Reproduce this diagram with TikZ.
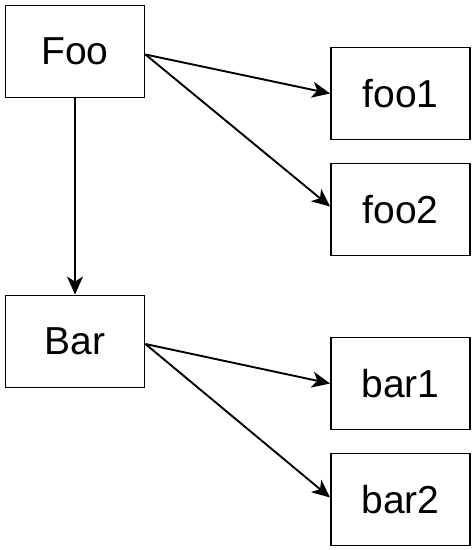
\documentclass[tikz,border=0pt]{standalone}
\usepackage{fontspec}
\setmainfont{Liberation Sans}
\usetikzlibrary{arrows.meta, positioning}
\tikzset{%
	box/.style={
		draw,
		line width=1.9pt,
		minimum width=139pt,
		minimum height=92pt,
		inner sep=0pt,
		font=\fontsize{39}{46}\selectfont
	},
	link/.style={
		-{Stealth[length=18pt,width=16pt,inset=5pt]},
		line width=1.9pt
	},
}

\begin{document}
\begin{tikzpicture}[x=1pt,y=-1pt]
			\useasboundingbox (0,0) rectangle (474,550);
			
			% Draw the parents
			\node[box] (Foo) at (75,51.5) {Foo};
			\node[box] (Bar) at (75,341.5) {Bar};
			
			% Draw the children
			\node[box] (foo1) at (400.5,93.5) {foo1};
			\node[box] (foo2) at (400.5,209.5) {foo2};
			\node[box] (bar1) at (400.5,383.5) {bar1};
			\node[box] (bar2) at (400.5,499.5) {bar2};
			
			% Arrows from parents to children
			\coordinate (Foo out) at ([yshift=-3pt]Foo.east);
			\coordinate (Bar out) at ([yshift=-2.5pt]Bar.east);
			\draw[link] (Foo out) -- (foo1.west);
			\draw[link] (Foo out) -- ([yshift=3pt]foo2.west);
			\draw[link] (Bar out) -- (bar1.west);
			\draw[link] (Bar out) -- ([yshift=2pt]bar2.west);
			
			% Arrow between parents
			\draw[link] (Foo) -- (Bar);
			
		\end{tikzpicture}
\end{document}
